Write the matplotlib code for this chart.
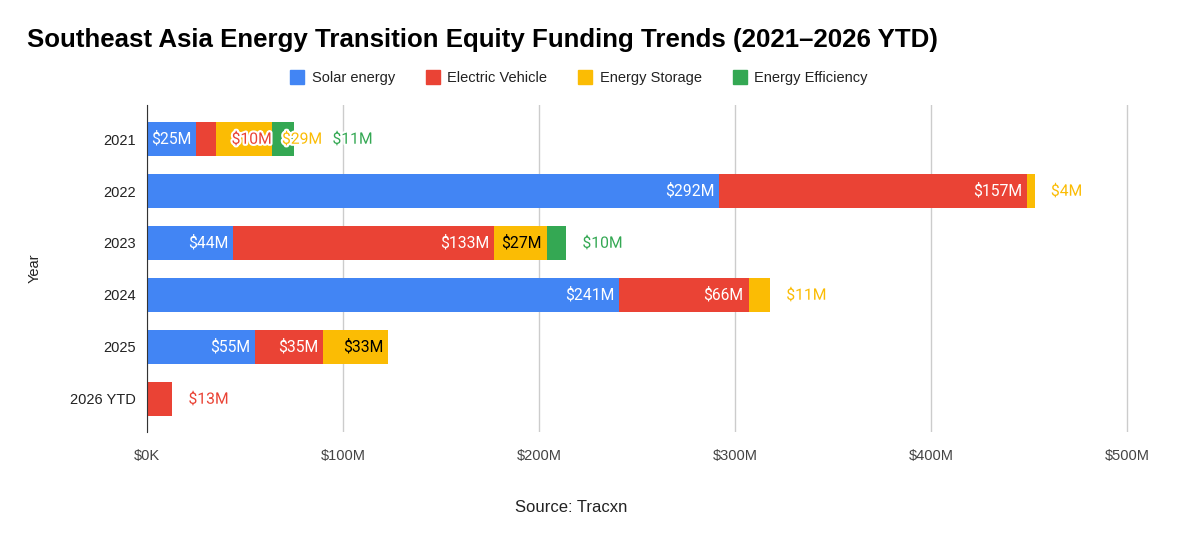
import matplotlib.pyplot as plt
import matplotlib.patheffects as pe
from matplotlib.lines import Line2D

years = ['2021', '2022', '2023', '2024', '2025', '2026 YTD']
series = ['Solar energy', 'Electric Vehicle', 'Energy Storage', 'Energy Efficiency']
solar = [25, 292, 44, 241, 55, 0]
ev = [10, 157, 133, 66, 35, 13]
storage = [29, 4, 27, 11, 33, 0]
efficiency = [11, 0, 10, 0, 0, 0]
xticks = [0, 100, 200, 300, 400, 500]
xticklabels = ['$0K', '$100M', '$200M', '$300M', '$400M', '$500M']

colors = ['#4285F4', '#EA4335', '#FBBC04', '#34A853']
inside_color = ['white', 'white', 'black', 'white']
data = [solar, ev, storage, efficiency]

W, H = 1199, 544
fig = plt.figure(figsize=(W / 100, H / 100), dpi=100)
ax = fig.add_axes([147 / W, 1 - 432 / H, (1129 - 147) / W, (432 - 105) / H])

ypos = list(range(len(years)))
left = [0] * len(years)
for s in range(len(series)):
    ax.barh(ypos, data[s], left=left, height=0.67, color=colors[s], zorder=2)
    left = [a + b for a, b in zip(left, data[s])]

ax.set_xlim(0, 501)
ax.set_ylim(5.635, -0.654)
ax.set_xticks(xticks)
ax.set_xticklabels(xticklabels, family='Liberation Sans', fontsize=10.5, color='#444444')
ax.set_yticks(ypos)
ax.set_yticklabels(years, family='Liberation Sans', fontsize=10.5, color='#222222')
ax.tick_params(length=0)
ax.tick_params(axis='x', pad=12)
ax.tick_params(axis='y', pad=8)
ax.grid(axis='x', color='#cccccc', lw=1, zorder=0)
for sp in ['top', 'right', 'bottom']:
    ax.spines[sp].set_visible(False)
ax.spines['left'].set_color('#333333')
ax.spines['left'].set_zorder(3)
ax.set_ylabel('Year', family='Liberation Sans', fontsize=10.5, color='#222222')
ax.yaxis.set_label_coords((42 - 147) / 982, 0.5)

# data labels: inside if they fit, otherwise outside in series colour
renderer = fig.canvas.get_renderer()
for i in ypos:
    start = 0
    cursor = None
    for s in range(len(series)):
        v = data[s][i]
        if v == 0:
            continue
        x0 = ax.transData.transform((start, i))[0]
        x1 = ax.transData.transform((start + v, i))[0]
        txt = '$%dM' % v
        t = ax.annotate(txt, xy=(start + v, i), xytext=(-5, 0), textcoords='offset pixels',
                        ha='right', va='center', family='Roboto', fontsize=11.3, zorder=4)
        w = t.get_window_extent(renderer).width
        if x1 - x0 >= w + 4 and (cursor is None or x0 >= cursor):
            t.set_color(inside_color[s])
        else:
            px = x1 + 16 if cursor is None else cursor + 10
            t.set_ha('left')
            t.xyann = (px - x1, 0)
            t.set_color(colors[s])
            t.set_path_effects([pe.withStroke(linewidth=3, foreground='white')])
            cursor = px + w
        start += v

handles = [Line2D([], [], marker='s', ls='', markersize=9.5, color=c) for c in colors]
fig.legend(handles, series, loc='center', bbox_to_anchor=(578 / W, 1 - 78 / H), ncol=4,
           frameon=False, prop={'family': 'Liberation Sans', 'size': 10.5},
           handletextpad=0.4, columnspacing=2.0, handlelength=1.2, labelcolor='#222222')

fig.text(27 / W, 1 - 40 / H, 'Southeast Asia Energy Transition Equity Funding Trends (2021\u20132026 YTD)',
         family='Liberation Sans', fontweight='bold', fontsize=18.6, va='center', ha='left', color='black')
fig.text(571 / W, 1 - 508 / H, 'Source: Tracxn', family='Liberation Sans', fontsize=12,
         ha='center', va='center', color='#222222')

fig.savefig('out.png', dpi=100)
